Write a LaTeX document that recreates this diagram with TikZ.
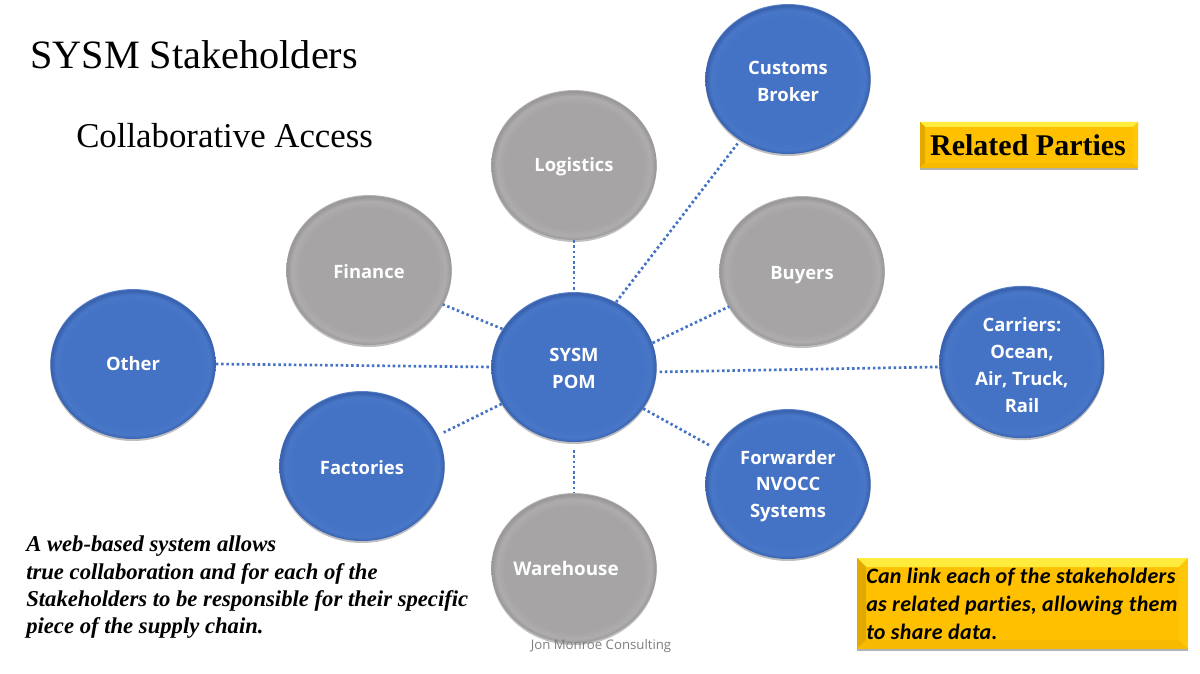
\documentclass[tikz,border=0pt]{standalone}
\usepackage{fontspec}
\setmainfont{Liberation Serif}
\newfontfamily\labelfont{Open Sans}
\newfontfamily\notefont{Carlito}[LetterSpace=1.6,Ligatures=NoCommon]
\usetikzlibrary{shapes.geometric,shadows,calc}
\definecolor{linkblue}{HTML}{4472C4}
\definecolor{footgray}{HTML}{7F7F7F}
\definecolor{bmain}{RGB}{68,114,196}
\definecolor{binner}{RGB}{72,119,200}
\definecolor{bdark}{RGB}{54,94,170}
\definecolor{bmid}{RGB}{105,145,215}
\definecolor{blite}{RGB}{170,195,235}
\definecolor{gmain}{RGB}{166,164,164}
\definecolor{ginner}{RGB}{174,172,172}
\definecolor{gdark}{RGB}{150,148,148}
\definecolor{gmid}{RGB}{195,193,193}
\definecolor{glite}{RGB}{232,232,232}
\definecolor{ybase}{RGB}{255,192,0}
\definecolor{ytop}{RGB}{255,236,60}
\definecolor{yleft}{RGB}{226,170,0}
\definecolor{ybot}{RGB}{248,186,0}
\definecolor{yright}{RGB}{255,198,10}
\pgfdeclareradialshading{blueorb}{\pgfpoint{0bp}{-0.7bp}}{%
 color(0bp)=(bmain);
 color(21bp)=(bmain);
 color(23.3bp)=(binner);
 color(25bp)=(bdark);
 color(25.5bp)=(bmid);
 color(26bp)=(blite);
 color(50bp)=(blite)}
\pgfdeclareradialshading{grayorb}{\pgfpoint{0bp}{-0.7bp}}{%
 color(0bp)=(gmain);
 color(21bp)=(gmain);
 color(23.3bp)=(ginner);
 color(25bp)=(gdark);
 color(25.5bp)=(gmid);
 color(26bp)=(glite);
 color(50bp)=(glite)}
\newcommand{\lowered}[2][1.2pt]{\raisebox{-#1}[\height][\depth]{\begin{tabular}{@{}c@{}}#2\end{tabular}}}
\tikzset{
 x=0.75pt,y=-0.75pt,
 orb/.style={ellipse,inner sep=0pt,minimum width=124pt,minimum height=112.5pt,align=center,text=white,
   font=\labelfont\bfseries\fontsize{13.8pt}{20.2pt}\selectfont,
   drop shadow={shadow xshift=0pt,shadow yshift=-1.5pt,opacity=.25,fill=black}},
 blueorb/.style={orb,shading=blueorb},
 grayorb/.style={orb,shading=grayorb},
 link/.style={draw=linkblue,line width=2pt,dash pattern=on 1.9pt off 2pt},
 bevelbox/.style={inner sep=0pt,fill=ybase,
   drop shadow={shadow xshift=0pt,shadow yshift=-1.8pt,opacity=.3,fill=black},
   path picture={
     \coordinate (nw) at (path picture bounding box.north west);
     \coordinate (se) at (path picture bounding box.south east);
     \coordinate (ne) at (path picture bounding box.north east);
     \coordinate (sw) at (path picture bounding box.south west);
     \fill[ytop] (nw) -- (ne) -- ($(ne)+(-#1,#1)$) -- ($(nw)+(#1,#1)$) -- cycle;
     \fill[yleft] (nw) -- (sw) -- ($(sw)+(#1,-#1)$) -- ($(nw)+(#1,#1)$) -- cycle;
     \fill[ybot] (sw) -- (se) -- ($(se)+(-#1,-#1)$) -- ($(sw)+(#1,-#1)$) -- cycle;
     \fill[yright] (ne) -- (se) -- ($(se)+(-#1,-#1)$) -- ($(ne)+(-#1,#1)$) -- cycle;
   }},
 bigheading/.style={anchor=west,inner sep=0pt,font=\fontsize{30.2pt}{34pt}\selectfont},
 subheading/.style={anchor=west,inner sep=0pt,font=\fontsize{26.1pt}{30pt}\selectfont},
 blurb/.style={anchor=north west,inner sep=0pt,align=left,font=\bfseries\itshape\fontsize{17pt}{20.5pt}\selectfont},
 notetext/.style={align=left,font=\notefont\bfseries\itshape\fontsize{16.5pt}{20.8pt}\selectfont},
}
\begin{document}
\begin{tikzpicture}
\useasboundingbox (0,0) rectangle (1200,674);
\fill[white] (0,0) rectangle (1200,674);

\node[bigheading] (title) at (30,55) {SYSM Stakeholders};
\node[subheading] (sub) at (76,136) {Collaborative Access};

\node[blueorb] (cust) at (788,79) {\lowered[2.7pt]{Customs\\Broker}};
\node[grayorb] (log) at (574,165) {\lowered{Logistics}};
\node[grayorb] (fin) at (369,270) {\lowered[2.7pt]{Finance}};
\node[grayorb] (buy) at (802,271) {\lowered[2pt]{Buyers}};
\node[blueorb] (oth) at (133,364) {Other};
\node[blueorb] (pom) at (574,367) {\lowered[2pt]{SYSM\\POM}};
\node[blueorb] (car) at (1022,362) {\lowered[3.2pt]{Carriers:\\Ocean,\\Air, Truck,\\Rail}};
\node[blueorb] (fac) at (362,466) {\lowered[2pt]{Factories}};
\node[blueorb] (fwd) at (788,484) {\lowered{Forwarder\\NVOCC\\Systems}};
\node[grayorb] (war) at (574,568) {\lowered[1.5pt]{\makebox[0pt]{\fontsize{14.1pt}{20pt}\selectfont Warehouse\hspace*{12pt}}}};

\draw[link] (log) -- (pom);
\draw[link,shorten >=3pt] (pom.57) -- (cust.232);
\draw[link] (pom.17) -- (buy.206);
\draw[link] (pom.152) -- (fin.-25);
\draw[link,shorten >=5pt] (pom.207) -- (fac.22);
\draw[link,shorten >=4pt] (pom.-31) -- (fwd.154);
\draw[link,shorten <=6pt] (pom) -- (war);
\draw[link] (oth.east) -- (pom.west);
\draw[link,shorten <=2pt] ([yshift=-3.7pt]pom.east) -- ([yshift=-3.7pt]car.west);

\node[bevelbox=5,minimum width=163.5pt,minimum height=34.5pt] (rel) at (1029,145) {};
\node[font=\bfseries\fontsize{22.5pt}{26pt}\selectfont,inner sep=0pt] (reltext) at (1028,145) {Related Parties};

\node[bevelbox=9,minimum width=248.2pt,minimum height=68.2pt] (can) at (1022.5,603.5) {};
\node[notetext,anchor=west,inner sep=0pt] (cantext) at (866,604) {Can link each of the stakeholders\\as related parties, allowing them\\to share data.};

\node[blurb] (note) at (26,536) {A web-based system allows\\true collaboration and for each of the\\Stakeholders to be responsible for their specific\\piece of the supply chain.};

\node[text=footgray,inner sep=0pt,font=\labelfont\fontsize{9.9pt}{12pt}\selectfont] (foot) at (601,646) {Jon Monroe Consulting};
\end{tikzpicture}
\end{document}
